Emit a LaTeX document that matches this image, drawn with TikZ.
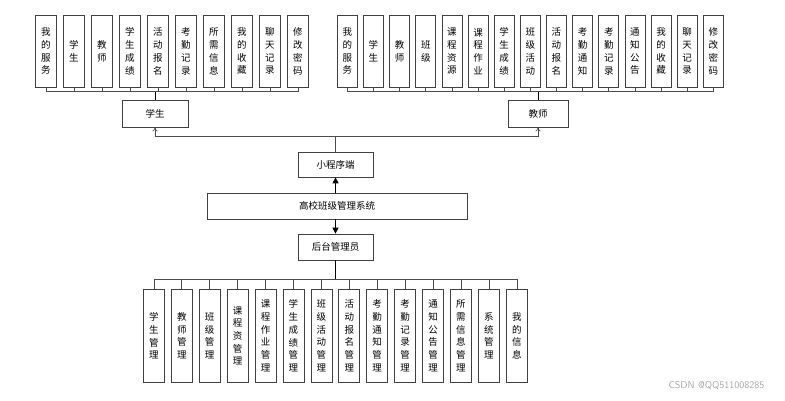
\documentclass[tikz,border=0pt]{standalone}
\usepackage{fontspec}
\newfontfamily\cjk{Noto Sans CJK SC}
\usetikzlibrary{arrows.meta}
\begin{document}
\begin{tikzpicture}[x=1pt,y=-1pt,
  box/.style={draw=black!75,line width=0.7pt,inner sep=0,font=\cjk\fontsize{9.5}{12.7}\selectfont,align=center},
  vbox/.style={box,minimum width=21,anchor=north west},
  wire/.style={draw=black!70,line width=0.6pt},
  bus/.style={draw=black,line width=1pt}]
\useasboundingbox (0,0) rectangle (785,400);
% top level boxes
\node[box,minimum width=66,minimum height=27] (stu) at (155,113.5) {学生};
\node[box,minimum width=60,minimum height=27] (tea) at (538,113.5) {教师};
\node[box,minimum width=75,minimum height=25] (app) at (335.5,164.5) {小程序端};
\node[box,minimum width=260,minimum height=26] (sys) at (337,206) {高校班级管理系统};
\node[box,minimum width=75,minimum height=26] (adm) at (335.5,247) {后台管理员};
% student items
\foreach \t [count=\i from 0] in {我\\的\\服\\务,学\\生,教\\师,学\\生\\成\\绩,活\\动\\报\\名,考\\勤\\记\\录,所\\需\\信\\息,我\\的\\收\\藏,聊\\天\\记\\录,修\\改\\密\\码}{
  \node[vbox,minimum height=72] (s\i) at ({35+28*\i},15) {\t};
  \draw[wire] (stu.north) -- ++(0,-8) -| (s\i.south);
}
\draw[bus] (stu.north) -- ++(0,-8);
% teacher items
\foreach \t [count=\i from 0] in {我\\的\\服\\务,学\\生,教\\师,班\\级,课\\程\\资\\源,课\\程\\作\\业,学\\生\\成\\绩,班\\级\\活\\动,活\\动\\报\\名,考\\勤\\通\\知,考\\勤\\记\\录,通\\知\\公\\告,我\\的\\收\\藏,聊\\天\\记\\录,修\\改\\密\\码}{
  \node[vbox,minimum width=20,minimum height=72] (t\i) at ({337+26.14*\i},15) {\t};
  \draw[wire] (tea.north) -- ++(0,-8) -| (t\i.south);
}
\draw[bus] (tea.north) -- ++(0,-8);
% admin items
\foreach \t [count=\i from 0] in {学\\生\\管\\理,教\\师\\管\\理,班\\级\\管\\理,课\\程\\资\\管\\理,课\\程\\作\\业\\管\\理,学\\生\\成\\绩\\管\\理,班\\级\\活\\动\\管\\理,活\\动\\报\\名\\管\\理,考\\勤\\通\\知\\管\\理,考\\勤\\记\\录\\管\\理,通\\知\\公\\告\\管\\理,所\\需\\信\\息\\管\\理,系\\统\\管\\理,我\\的\\信\\息}{
  \node[vbox,minimum height=93] (a\i) at ({143+27.92*\i},289) {\t};
  \draw[wire] (adm.south) -- ++(0,19) -| (a\i.north);
}
\draw[bus] (adm.south) -- ++(0,19);
% arrows
\coordinate (j) at (335.5,136);
\draw[wire] (app.north) -- (j);
\draw[wire,-{To[length=4,width=5]}] (j) -| (stu.south);
\draw[wire,-{To[length=4,width=5]}] (j) -| (tea.south);
\draw[line width=0.8pt,-{Triangle[length=6,width=6]}] (sys.north -| app) -- (app.south);
\draw[line width=0.8pt,-{Triangle[length=6,width=6]}] (sys.south -| adm) -- (adm.north);
\node[font=\fontfamily{lmss}\fontsize{10}{12}\selectfont,text=black!35,anchor=east] (wm) at (768,386) {CSDN @QQ511008285};
\end{tikzpicture}
\end{document}
